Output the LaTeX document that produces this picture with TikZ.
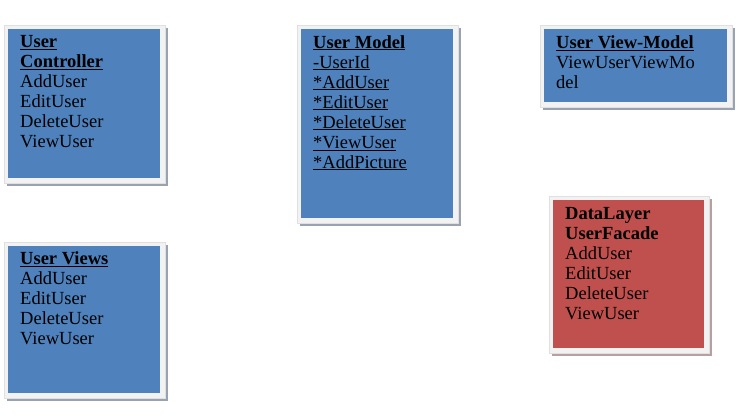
\documentclass[tikz,border=0pt]{standalone}
\usepackage{fontspec}
\setmainfont{Liberation Serif}
\definecolor{bblue}{HTML}{4F81BD}
\definecolor{bred}{HTML}{C0504D}
\definecolor{frame}{HTML}{F2F2F2}
\definecolor{shad}{HTML}{98A2B0}
\definecolor{shadr}{HTML}{B8A0A0}
\begin{document}
\begin{tikzpicture}[x=1pt,y=-1pt,
  txt/.style={anchor=north west,inner sep=0pt,align=left,font=\fontsize{18.5}{20}\selectfont}]
\useasboundingbox[fill=white] (0,0) rectangle (747,417);
\newcommand\mybox[6]{% x1 y1 x2 y2 color shadowcolor
  \fill[#6] (#1+3,#2+3) rectangle (#3+3,#4+3);
  \fill[frame] (#1,#2) rectangle (#3,#4);
  \draw[black!12] (#1,#2) rectangle (#3,#4);
  \fill[#5] (#1+4,#2+4) rectangle (#3-5,#4-5);}
\mybox{4}{25}{165}{183}{bblue}{shad}
\mybox{297}{25}{458}{223}{bblue}{shad}
\mybox{540}{25}{732}{107}{bblue}{shad}
\mybox{4}{242}{165}{398}{bblue}{shad}
\mybox{549}{196}{709}{353}{bred}{shadr}
\node[txt] (uc) at (20,35) {\underline{\textbf{User}}\\\underline{\textbf{Controller}}\\AddUser\\EditUser\\DeleteUser\\ViewUser};
\node[txt] (um) at (313,35) {\underline{\textbf{User Model}}\\\underline{-UserId}\\\underline{*AddUser}\\\underline{*EditUser}\\\underline{*DeleteUser}\\\underline{*ViewUser}\\\underline{*AddPicture}};
\node[txt] (uvm) at (556,35) {\underline{\textbf{User View-Model}}\\ViewUserViewMo\\del};
\node[txt] (uv) at (20,251) {\underline{\textbf{User Views}}\\AddUser\\EditUser\\DeleteUser\\ViewUser};
\node[txt] (dl) at (565,207) {\textbf{DataLayer}\\\textbf{UserFacade}\\AddUser\\EditUser\\DeleteUser\\ViewUser};
\end{tikzpicture}
\end{document}
